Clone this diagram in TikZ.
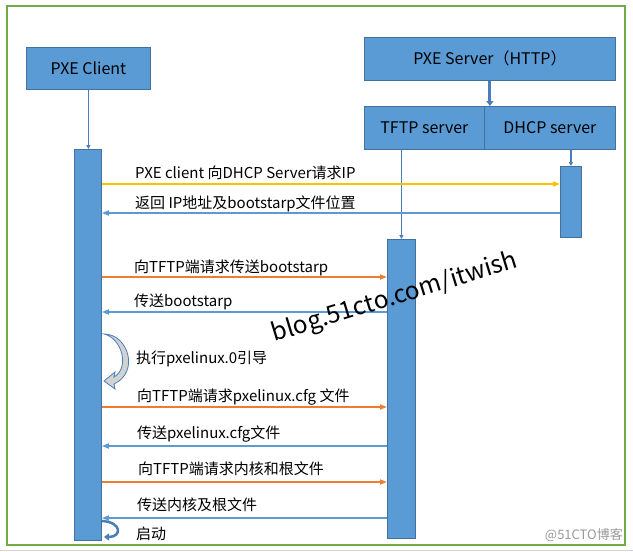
\documentclass[tikz,border=0pt]{standalone}
\usepackage{fontspec}
\setmainfont{Noto Sans CJK SC}
\usetikzlibrary{arrows.meta}
\definecolor{boxblue}{HTML}{5B9BD5}
\definecolor{boxedge}{HTML}{41719C}
\definecolor{lifeblue}{HTML}{4A7EBB}
\definecolor{reqorange}{HTML}{ED7D31}
\definecolor{reqgold}{HTML}{FFC000}
\definecolor{framegreen}{HTML}{70AD47}
\definecolor{wmgray}{HTML}{9A9A9A}
\begin{document}
\begin{tikzpicture}[x=1pt,y=-1pt,
  box/.style={draw=boxedge, fill=boxblue, line width=0.8pt, inner sep=0pt, anchor=north west, font=\fontsize{16}{19}\selectfont, text=black},
  bar/.style={draw=boxedge, fill=boxblue, line width=0.8pt, inner sep=0pt, anchor=north west},
  life/.style={draw=lifeblue, line width=1.5pt, -{Triangle[length=4pt,width=4pt]}},
  req/.style={draw=reqorange, line width=1.6pt, -{Triangle[length=7pt,width=5pt]}},
  reqy/.style={draw=reqgold, line width=1.6pt, -{Triangle[length=7pt,width=5pt]}},
  rep/.style={draw=boxblue, line width=1.6pt, -{Triangle[length=7pt,width=5pt]}},
  lbl/.style={anchor=west, inner sep=0pt, font=\fontsize{15}{18}\selectfont, text=black}
]
\useasboundingbox (0,0) rectangle (633,552);
\fill[white] (0,0) rectangle (633,552);
\draw[framegreen, line width=1.2pt] (7,6) rectangle (625,545);
\draw[gray!35, line width=1pt] (0,550) -- (633,550);

% boxes
\node[box, minimum width=124pt, minimum height=42pt] (client) at (26,47) {PXE Client};
\node[box, minimum width=251pt, minimum height=43pt] (server) at (364,37) {PXE Server（HTTP）};
\node[box, minimum width=120pt, minimum height=43pt] (tftp) at (364,106) {TFTP server};
\node[box, minimum width=131pt, minimum height=43pt] (dhcp) at (484,106) {DHCP server};

% activation bars
\node[bar, minimum width=27pt, minimum height=391pt] (cbar) at (74,149) {};
\node[bar, minimum width=28pt, minimum height=299pt] (tbar) at (387,239) {};
\node[bar, minimum width=21pt, minimum height=71pt] (dbar) at (560,166) {};

% lifelines
\draw[life] (client.south) -- (client.south |- cbar.north);
\draw[life] (tbar.north |- tftp.south) -- (tbar.north);
\draw[life] (dbar.north |- dhcp.south) -- (dbar.north);
\draw[draw=lifeblue, line width=3pt, -{Triangle[length=5pt,width=7pt]}] (server.south) -- (server.south |- tftp.north);

% messages
\draw[reqy] (cbar.east |- 0,184) -- (dbar.west |- 0,184);
\node[lbl] (m1) at (135,173) {PXE client 向DHCP Server请求IP};
\draw[rep] (dbar.west |- 0,213) -- (cbar.east |- 0,213);
\node[lbl] (m2) at (135,204) {返回 IP地址及bootstarp文件位置};
\draw[req] (cbar.east |- 0,277) -- (tbar.west |- 0,277);
\node[lbl] (m3) at (134,268) {向TFTP端请求传送bootstarp};
\draw[rep] (tbar.west |- 0,312) -- (cbar.east |- 0,312);
\node[lbl] (m4) at (134,302) {传送bootstarp};

% self call: pxelinux
\filldraw[draw=lifeblue, fill=gray!35, line width=0.8pt]
  (104,334) .. controls (128,334) and (140,372) .. (114,384)
  -- (115,389) -- (104,381) -- (115,372) -- (114,377)
  .. controls (130,368) and (122,338) .. (104,334) -- cycle;
\node[lbl] (m5) at (136,359) {执行pxelinux.0引导};

\draw[req] (cbar.east |- 0,407) -- (tbar.west |- 0,407);
\node[lbl] (m6) at (137,397) {向TFTP端请求pxelinux.cfg 文件};
\draw[rep] (tbar.west |- 0,446) -- (cbar.east |- 0,446);
\node[lbl] (m7) at (137,434) {传送pxelinux.cfg文件};
\draw[req] (cbar.east |- 0,482) -- (tbar.west |- 0,482);
\node[lbl] (m8) at (138,469) {向TFTP端请求内核和根文件};
\draw[rep] (tbar.west |- 0,518) -- (cbar.east |- 0,518);
\node[lbl] (m9) at (137,505) {传送内核及根文件};

% self call: boot
\draw[draw=lifeblue, line width=2.5pt, -{Triangle[length=5pt,width=7pt]}]
  (102,521) .. controls (122,522) and (122,537) .. (104,537);
\node[lbl] (m10) at (136,534) {启动};

% watermarks
\node[rotate=17, font=\fontsize{24.5}{28}\selectfont, text=black] (wm) at (395,298) {blog.51cto.com/itwish};
\node[anchor=east, inner sep=0pt, font=\fontsize{13}{15}\selectfont, text=wmgray] (wm2) at (623,535) {@51CTO博客};
\end{tikzpicture}
\end{document}
